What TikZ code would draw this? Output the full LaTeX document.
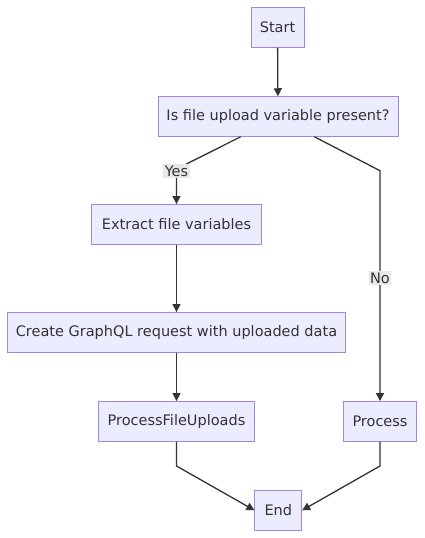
\documentclass[tikz,border=0pt]{standalone}
\usepackage{fontspec}
\setmainfont{DejaVu Sans}
\usetikzlibrary{arrows.meta}
\definecolor{boxfill}{HTML}{ECECFF}
\definecolor{boxline}{HTML}{9370DB}
\definecolor{ink}{HTML}{333333}
\definecolor{lblbg}{HTML}{E8E8E8}
\begin{document}
\begin{tikzpicture}[x=1pt,y=-1pt,
  flowbox/.style={draw=boxline!85!white,fill=boxfill,line width=1pt,inner sep=0pt,
    minimum height=39.5pt,text=ink,font=\fontsize{14.5}{17}\selectfont},
  edgelbl/.style={fill=lblbg,inner sep=1.5pt,text=ink,font=\fontsize{14.5}{17}\selectfont},
  conn/.style={draw=ink,line width=1.3pt,-{Triangle[length=8pt,width=8pt]}},
  plain/.style={draw=ink,line width=1.3pt}]
\useasboundingbox (0,0) rectangle (425,538);
\fill[white] (0,0) rectangle (425,538);
\node[flowbox,minimum width=53pt] (start) at (277.5,27.5) {Start};
\node[flowbox,minimum width=240pt] (dec) at (278,116.5) {Is file upload variable present?};
\node[flowbox,minimum width=170pt] (extract) at (176.5,224.3) {Extract file variables};
\node[flowbox,minimum width=338pt] (create) at (176.5,332.3) {Create GraphQL request with uploaded data};
\node[flowbox,minimum width=156.4pt] (pfu) at (176.5,421.3) {ProcessFileUploads};
\node[flowbox,minimum width=73.4pt] (proc) at (380,421.3) {Process};
\node[flowbox,minimum width=46.7pt] (end) at (278.3,510.3) {End};
\coordinate (yc) at (176.5,169);
\coordinate (nc) at (380,170.7);
\coordinate (pc) at (176.5,466);
\coordinate (qc) at (380,466);
\draw[conn] (start) -- (dec);
\draw[conn] (dec.south -| 240.7,0) -- (yc) -- (extract.north);
\draw[conn] (dec.south -| 314.3,0) -- (nc) -- (proc.north);
\draw[conn] (extract) -- (create);
\draw[conn] (create) -- (pfu);
\draw[conn] (pfu.south) -- (pc) -- (end.west);
\draw[conn] (proc.south) -- (qc) -- (end.east);
\node[edgelbl] (yes) at (176.5,171) {Yes};
\node[edgelbl] (no) at (380,278) {No};
\end{tikzpicture}
\end{document}
